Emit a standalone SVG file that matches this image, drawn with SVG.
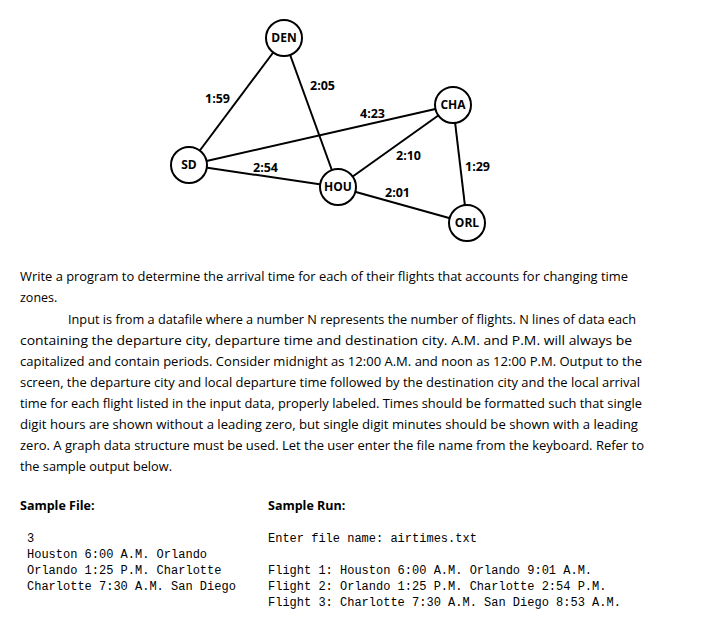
<svg xmlns="http://www.w3.org/2000/svg" width="719" height="620" viewBox="0 0 719 620">
<style>
.n{fill:#fff;stroke:#000;stroke-width:2}
.nt{font-family:"Open Sans","Liberation Sans",sans-serif;font-weight:bold;font-size:12px;text-anchor:middle}
.e{stroke:#000;stroke-width:2}
.el{font-family:"Open Sans","Liberation Sans",sans-serif;font-weight:bold;font-size:12.5px}
.p{font-family:"Open Sans","Liberation Sans",sans-serif;font-size:12.5px}
.h{font-family:"Open Sans","Liberation Sans",sans-serif;font-size:12.5px;font-weight:bold}
.m{font-family:"Liberation Mono",monospace;font-size:12px}
</style>
<rect width="719" height="620" fill="#fff"/>
<g id="edges">
<line class="e" x1="284" y1="38" x2="189" y2="165"/>
<line class="e" x1="284" y1="38" x2="338" y2="187"/>
<line class="e" x1="189" y1="165" x2="453" y2="105"/>
<line class="e" x1="189" y1="165" x2="338" y2="187"/>
<line class="e" x1="338" y1="187" x2="453" y2="105"/>
<line class="e" x1="338" y1="187" x2="467" y2="223"/>
<line class="e" x1="453" y1="105" x2="467" y2="223"/>
<text class="el" x="205" y="103">1:59</text>
<text class="el" x="310" y="90">2:05</text>
<text class="el" x="360" y="118">4:23</text>
<text class="el" x="396" y="160">2:10</text>
<text class="el" x="465" y="171">1:29</text>
<text class="el" x="253" y="172">2:54</text>
<text class="el" x="385" y="197">2:01</text>
</g>
<g id="DEN"><circle class="n" cx="284" cy="38" r="18"/><text class="nt" x="284" y="42">DEN</text></g>
<g id="CHA"><circle class="n" cx="453" cy="105" r="18"/><text class="nt" x="453" y="109">CHA</text></g>
<g id="SD"><circle class="n" cx="189" cy="165" r="18"/><text class="nt" x="189" y="169">SD</text></g>
<g id="HOU"><circle class="n" cx="338" cy="187" r="18"/><text class="nt" x="338" y="191">HOU</text></g>
<g id="ORL"><circle class="n" cx="467" cy="223" r="18"/><text class="nt" x="467" y="227">ORL</text></g>
<g id="text">
<text class="p" x="20" y="281" textLength="608" lengthAdjust="spacingAndGlyphs">Write a program to determine the arrival time for each of their flights that accounts for changing time</text>
<text class="p" x="20" y="302">zones.</text>
<text class="p" x="68" y="324" textLength="568" lengthAdjust="spacingAndGlyphs">Input is from a datafile where a number N represents the number of flights. N lines of data each</text>
<text class="p" x="20" y="345" textLength="612" lengthAdjust="spacingAndGlyphs">containing the departure city, departure time and destination city. A.M. and P.M. will always be</text>
<text class="p" x="20" y="366" textLength="622" lengthAdjust="spacingAndGlyphs">capitalized and contain periods. Consider midnight as 12:00 A.M. and noon as 12:00 P.M. Output to the</text>
<text class="p" x="20" y="387" textLength="620" lengthAdjust="spacingAndGlyphs">screen, the departure city and local departure time followed by the destination city and the local arrival</text>
<text class="p" x="20" y="408" textLength="622" lengthAdjust="spacingAndGlyphs">time for each flight listed in the input data, properly labeled. Times should be formatted such that single</text>
<text class="p" x="20" y="429" textLength="618" lengthAdjust="spacingAndGlyphs">digit hours are shown without a leading zero, but single digit minutes should be shown with a leading</text>
<text class="p" x="20" y="450" textLength="624" lengthAdjust="spacingAndGlyphs">zero.  A graph data structure must be used. Let the user enter the file name from the keyboard.  Refer to</text>
<text class="p" x="20" y="471" textLength="152" lengthAdjust="spacingAndGlyphs">the sample output below.</text>
<text class="h" x="20" y="510">Sample File:</text>
<text class="h" x="268" y="510">Sample Run:</text>
<text class="m" x="27" y="542">3</text>
<text class="m" x="27" y="558">Houston 6:00 A.M. Orlando</text>
<text class="m" x="27" y="574">Orlando 1:25 P.M. Charlotte</text>
<text class="m" x="27" y="590">Charlotte 7:30 A.M. San Diego</text>
<text class="m" x="268" y="542">Enter file name: airtimes.txt</text>
<text class="m" x="268" y="574">Flight 1: Houston 6:00 A.M. Orlando 9:01 A.M.</text>
<text class="m" x="268" y="590">Flight 2: Orlando 1:25 P.M. Charlotte 2:54 P.M.</text>
<text class="m" x="268" y="606">Flight 3: Charlotte 7:30 A.M. San Diego 8:53 A.M.</text>
</g>
</svg>
